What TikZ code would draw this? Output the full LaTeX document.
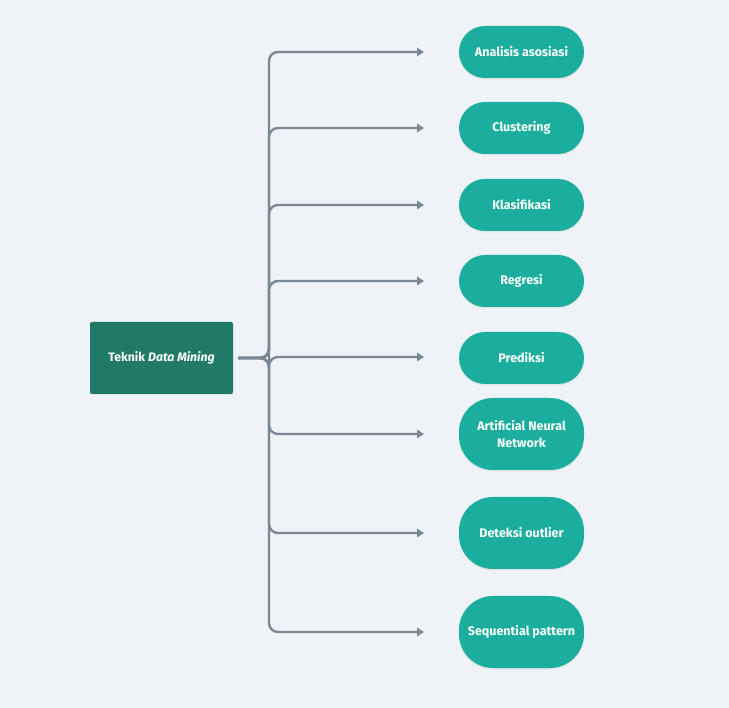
\documentclass[tikz,border=0pt]{standalone}
\usepackage{fontspec}
\setmainfont{Fira Sans}
\usetikzlibrary{arrows.meta,shadows}
\definecolor{bgc}{HTML}{EFF3F7}
\definecolor{rootc}{HTML}{217A68}
\definecolor{pillc}{HTML}{1BAE9E}
\definecolor{linec}{HTML}{7A8896}
\tikzset{
  rootbox/.style={fill=rootc, rounded corners=2pt, minimum width=143pt, minimum height=72pt, inner sep=0pt, text=white, font=\fontsize{12.3}{14}\selectfont\bfseries, drop shadow={shadow xshift=0pt, shadow yshift=-1pt, opacity=0.15}},
  pill/.style={fill=pillc, rounded corners=26pt, minimum width=125pt, inner sep=0pt, text=white, align=center, font=\fontsize{12.5}{17}\selectfont\bfseries, drop shadow={shadow xshift=0pt, shadow yshift=-1.5pt, opacity=0.12}},
  pillS/.style={pill, minimum height=52pt},
  pillL/.style={pill, minimum height=72pt, rounded corners=34pt},
  conn/.style={draw=linec, line width=2.4pt, rounded corners=9pt, -{Triangle[length=7pt,width=8.5pt]}, shorten <=5pt}
}
\begin{document}
\begin{tikzpicture}[x=1pt,y=-1pt]
\fill[bgc] (0,0) rectangle (729,708);
\useasboundingbox (0,0) rectangle (729,708);
\node[rootbox] (root) at (161.5,358) {Teknik \textit{Data Mining}};
\coordinate (hub) at (269,358);
\node[pillS] (p1) at (521.5,52) {Analisis asosiasi};
\node[pillS] (p2) at (521.5,128) {Clustering};
\node[pillS] (p3) at (521.5,205) {Klasifikasi};
\node[pillS] (p4) at (521.5,281) {Regresi};
\node[pillS] (p5) at (521.5,358) {Prediksi};
\node[pillL] (p6) at (521.5,434) {Artificial Neural\\Network};
\node[pillL] (p7) at (521.5,533) {Deteksi outlier};
\node[pillL] (p8) at (521.5,632) {Sequential pattern};
\foreach \i/\y in {1/52,2/128,3/205,4/281,5/357,6/434,7/533,8/632}{
  \coordinate (e\i) at (424,\y);
  \draw[conn] (root.east) -- (hub) |- (e\i);
}
\end{tikzpicture}
\end{document}
